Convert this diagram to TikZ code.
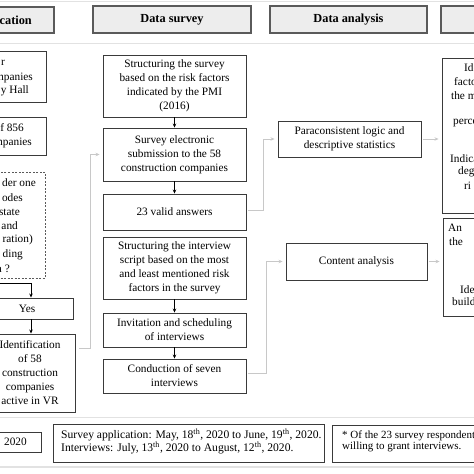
\documentclass[tikz,border=0pt]{standalone}
\usepackage{fontspec}
\setmainfont{Liberation Serif}
\usetikzlibrary{arrows.meta,calc}
\definecolor{boxc}{HTML}{3A3A3A}
\definecolor{hdrc}{HTML}{5A5A5A}
\definecolor{hdrfill}{HTML}{EDEDED}
\definecolor{grayc}{HTML}{C8C8C8}
\definecolor{sepc}{HTML}{E2E2E2}
\newcommand\fsA{\fontsize{11.3}{14}\selectfont}
\newcommand\fsH{\fontsize{12.3}{14}\selectfont\bfseries}
\newcommand\fsB{\fontsize{11}{11.5}\selectfont}
\newcommand\fsD{\fontsize{11.6}{11.5}\selectfont}
\begin{document}
\begin{tikzpicture}[x=1pt,y=-1pt,
  box/.style={draw=boxc,line width=0.9pt,inner sep=0pt,align=center,font=\fsA},
  hdr/.style={draw=hdrc,fill=hdrfill,line width=1.1pt,inner sep=0pt,align=center,font=\fsH},
  txt/.style={inner sep=0pt,font=\fsA},
  blk/.style={draw=black,line width=0.7pt,-{Stealth[length=4pt,width=3.5pt]}},
  gry/.style={draw=grayc,line width=0.8pt,-{Stealth[length=4pt,width=3.5pt]},shorten >=3pt,shorten <=2pt},
  sep/.style={draw=sepc,line width=1pt}]
\useasboundingbox (0,0) rectangle (474,474);
\clip (0,0) rectangle (474,474);
% top and separators
\draw[sep] (0,1) -- (474,1);
\draw[sep] (0,43) -- (474,43);
\draw[sep] (0,417) -- (474,417);
\draw[sep,line width=2pt] (0,467) -- (474,467);
% headers
\node[hdr,minimum width=134,minimum height=26] (h1) at (-13,20) {};
\node[txt,font=\fsH,anchor=east] (h1t) at (32,20) {cation};
\node[hdr,minimum width=158,minimum height=27] (h2) at (172,19.5) {Data survey};
\node[hdr,minimum width=157,minimum height=27] (h3) at (348.5,19.5) {Data analysis};
\node[hdr,minimum width=110,minimum height=27] (h4) at (496,19.5) {};
% left column
\node[box,minimum width=106,minimum height=51] (l1) at (-7,76.5) {};
\node[txt,anchor=east] (l1a) at (5,63) {r};
\node[txt,anchor=east] (l1b) at (33,78) {mpanies};
\node[txt,anchor=east] (l1c) at (29,91) {y Hall};
\node[box,minimum width=106,minimum height=38] (l2) at (-7,136) {};
\node[txt,anchor=east] (l2a) at (24,128) {f 856};
\node[txt,anchor=east] (l2b) at (32,143) {mpanies};
\node[box,draw=hdrc,dash pattern=on 2pt off 1.5pt,minimum width=125,minimum height=106] (l3) at (-17.5,225) {};
\node[txt,anchor=east] (l3a) at (36,183) {der one};
\node[txt,anchor=east] (l3b) at (23,198) {odes};
\node[txt,anchor=east] (l3c) at (20,212) {state};
\node[txt,anchor=east] (l3d) at (18,226) {and};
\node[txt,anchor=east] (l3e) at (33,240) {ration)};
\node[txt,anchor=east] (l3f) at (23,255) {ding};
\node[txt,anchor=east] (l3g) at (10,269) {a ?};
\node[box,minimum width=92,minimum height=21] (yes) at (27,308.5) {Yes};
\node[box,minimum width=90,minimum height=78] (idf) at (30,373) {Identification\\of 58\\construction\\companies\\active in VR};
\coordinate (k1) at (31,283);
\draw[blk] (l3.south) |- (k1) -- (k1 |- yes.north);
\draw[blk] (yes.south -| k1) -- (k1 |- idf.north);
% data survey column
\node[box,minimum width=143,minimum height=62] (a) at (174.5,86) {Structuring the survey\\based on the risk factors\\indicated by the PMI\\(2016)};
\node[box,minimum width=143,minimum height=53] (b) at (174.5,154.5) {Survey electronic\\submission to the 58\\construction companies};
\node[box,minimum width=143,minimum height=36] (c) at (174.5,212) {23 valid answers};
\node[box,minimum width=143,minimum height=62] (d) at (174.5,268) {Structuring the interview\\script based on the most\\and least mentioned risk\\factors in the survey};
\node[box,minimum width=143,minimum height=34] (e) at (174.5,330) {Invitation and scheduling\\of interviews};
\node[box,minimum width=143,minimum height=34] (f) at (174.5,376) {Conduction of seven\\interviews};
\draw[blk] (a) -- (b);
\draw[blk] (b) -- (c);
\draw[blk] (d) -- (e);
\draw[blk] (e) -- (f);
\coordinate (g1) at (90,348);
\draw[gry,shorten <=4pt] (idf.east |- g1) -- (g1) |- (b.west);
% data analysis column
\node[box,minimum width=143,minimum height=36] (p) at (349.5,139) {Paraconsistent logic and\\descriptive statistics};
\node[box,minimum width=141,minimum height=37] (ca) at (356.5,261.5) {Content analysis};
\coordinate (g2) at (263,210);
\draw[gry] (c.east |- g2) -- (g2) |- (p.west);
\coordinate (g3) at (266,373);
\draw[gry] (f.east |- g3) -- (g3) |- (ca.west);
% right column
\node[box,minimum width=118,minimum height=155] (r1) at (501,135.5) {};
\node[txt,anchor=west] (r1a) at (464,68) {Identification};
\node[txt,anchor=west] (r1b) at (454,82) {factors};
\node[txt,anchor=west] (r1c) at (451,96) {the most};
\node[txt,anchor=west] (r1d) at (453,123) {percentage};
\node[txt,anchor=west] (r1e) at (450,159) {Indication};
\node[txt,anchor=west] (r1f) at (458,172) {degree};
\node[txt,anchor=west] (r1g) at (464,186) {ri};
\node[box,minimum width=117,minimum height=98] (r2) at (501.5,267) {};
\node[txt,anchor=west] (r2a) at (448,228) {An};
\node[txt,anchor=west] (r2b) at (449,242) {the};
\node[txt,anchor=west] (r2c) at (460,290) {Identification};
\node[txt,anchor=west] (r2d) at (452,303) {buildings};
\draw[gry] (p.east) -- (p.east -| r1.west);
\draw[gry] (ca.east) -- (ca.east -| r2.west);
% bottom
\node[box,minimum width=51,minimum height=20] (y20) at (15.5,442) {2020};
\node[box,minimum width=271,minimum height=38] (dates) at (188.5,443) {};
\node[txt,font=\fsD,anchor=west,align=left] (datest) at (61,441.5) {Survey application: May, 18\textsuperscript{th}, 2020 to June, 19\textsuperscript{th}, 2020.\\Interviews: July, 13\textsuperscript{th}, 2020 to August, 12\textsuperscript{th}, 2020.};
\node[box,minimum width=228,minimum height=37] (note) at (446,443.5) {};
\node[txt,font=\fsB,anchor=west,align=left] (notet) at (342,441.5) {* Of the 23 survey respondents\\willing to grant interviews.};
\end{tikzpicture}
\end{document}
